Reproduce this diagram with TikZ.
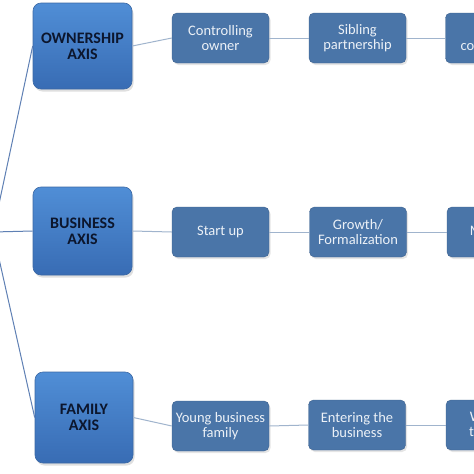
\documentclass[tikz,border=0pt]{standalone}
\usepackage{fontspec}
\setmainfont{Carlito}
\usetikzlibrary{shadows}
\definecolor{axistop}{RGB}{80,142,214}
\definecolor{axisbot}{RGB}{56,108,180}
\definecolor{axisedge}{RGB}{60,105,165}
\definecolor{stepfill}{RGB}{74,117,168}
\definecolor{steptext}{RGB}{236,241,247}
\definecolor{axistext}{RGB}{12,22,45}
\definecolor{rootline}{RGB}{95,128,180}
\definecolor{linkline}{RGB}{160,180,205}
\tikzset{
  axisbox/.style={draw=axisedge, line width=0.6pt, rounded corners=8pt,
    top color=axistop, bottom color=axisbot, align=center,
    text=axistext, font=\fontsize{16}{16}\selectfont\bfseries,
    drop shadow={opacity=0.25, shadow xshift=1.5pt, shadow yshift=-2.5pt}},
  stepbox/.style={draw=stepfill!85!black, line width=0.4pt, rounded corners=5pt,
    fill=stepfill, align=center, text=steptext, minimum width=97pt, minimum height=50pt,
    font=\fontsize{14.5}{15.5}\selectfont,
    drop shadow={opacity=0.2, shadow xshift=1.5pt, shadow yshift=-2pt}},
  rootlink/.style={draw=rootline, line width=1pt},
  steplink/.style={draw=linkline, line width=1pt}
}
\begin{document}
\begin{tikzpicture}[x=1pt,y=-1pt]
\useasboundingbox (0,0) rectangle (474,474);
\clip (0,0) rectangle (474,474);
\fill[white] (0,0) rectangle (474,474);
\coordinate (root) at (-7,232);
% axis boxes
\node[axisbox, minimum width=99pt, minimum height=86pt] (own) at (82.5,46) {OWNERSHIP\\AXIS};
\node[axisbox, minimum width=99pt, minimum height=88pt] (bus) at (82.5,231) {BUSINESS\\AXIS};
\node[axisbox, minimum width=98pt, minimum height=91pt] (fam) at (84,417.5) {FAMILY\\AXIS};
% step boxes
\node[stepbox] (co) at (220.5,38) {Controlling\\owner};
\node[stepbox] (sp) at (357.5,38) {Sibling\\partnership};
\node[stepbox] (cc) at (494,38) {Cousin\\consortium};
\node[stepbox] (su) at (220.5,232) {Start up};
\node[stepbox] (gf) at (358,232) {Growth/\\Formalization};
\node[stepbox] (mat) at (495.5,232) {Maturity};
\node[stepbox] (yb) at (220.5,426) {Young business\\family};
\node[stepbox] (eb) at (357,425) {Entering the\\business};
\node[stepbox] (wt) at (494.5,425) {Working\\together};
% connectors
\draw[rootlink] (root) -- (own.west);
\draw[rootlink] (root) -- (bus.west);
\draw[rootlink] (root) -- (fam.west);
\draw[steplink] (own.east) -- (co.west);
\draw[steplink] (co.east) -- (sp.west);
\draw[steplink] (sp.east) -- (cc.west);
\draw[steplink] (bus.east) -- (su.west);
\draw[steplink] (su.east) -- (gf.west);
\draw[steplink] (gf.east) -- (mat.west);
\draw[steplink] (fam.east) -- (yb.west);
\draw[steplink] (yb.east) -- (eb.west);
\draw[steplink] (eb.east) -- (wt.west);
\end{tikzpicture}
\end{document}
